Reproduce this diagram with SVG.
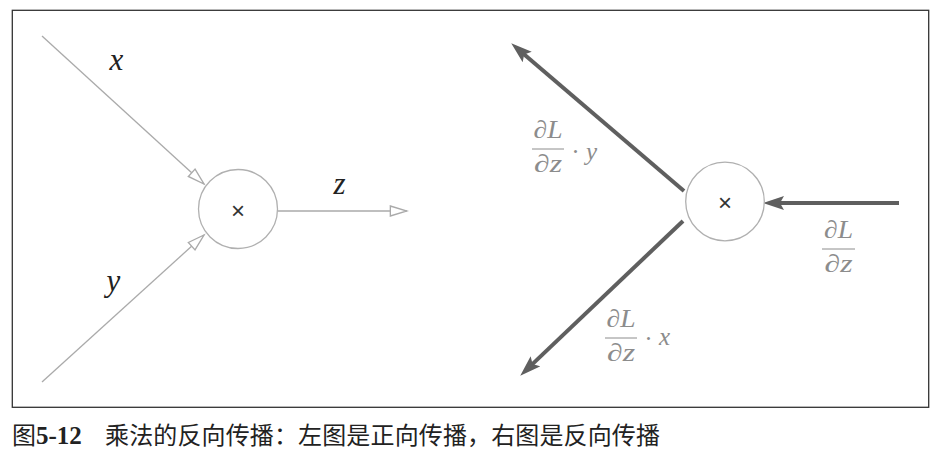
<svg xmlns="http://www.w3.org/2000/svg" width="939" height="459" viewBox="0 0 939 459">
<style>
.frame{fill:none;stroke:#333;stroke-width:1.3}
.node{fill:#fff;stroke:#b0b0b0;stroke-width:1.3}
.times{font-family:"Liberation Sans",sans-serif;font-size:24px;fill:#333;text-anchor:middle}
.fwd{fill:none;stroke:#aaa;stroke-width:1.3}
.bwd{fill:none;stroke:#5f5f5f;stroke-width:4}
.var{font-family:"Liberation Serif",serif;font-style:italic;font-size:31px;fill:#222;text-anchor:middle}
.frac{font-family:"Liberation Serif",serif;font-style:italic;font-size:25px;fill:#8c8c8c;text-anchor:middle}
.bar{stroke:#8c8c8c;stroke-width:1}
.cap{font-family:"Noto Sans CJK SC",sans-serif;font-size:24px;fill:#222}
.capnum{font-family:"Liberation Serif",serif;font-weight:bold;font-size:25px;fill:#222}
</style>
<defs>
<marker id="open" markerUnits="userSpaceOnUse" markerWidth="20" markerHeight="14" viewBox="-1 -1 18 12" refX="15" refY="5" orient="auto">
<path d="M0,0.5 L15,5 L0,9.5 Z" fill="#fff" stroke="#aaa" stroke-width="1.2"/>
</marker>
<marker id="solid" markerUnits="userSpaceOnUse" markerWidth="22" markerHeight="16" viewBox="0 0 22 14" refX="10" refY="7" orient="auto">
<path d="M0,0 L21,7 L0,14 L4,7 Z" fill="#5f5f5f"/>
</marker>
</defs>
<rect class="frame" x="12.3" y="10.3" width="916.4" height="397"/>
<g id="connectors">
<line class="fwd" x1="42" y1="36" x2="204" y2="184" marker-end="url(#open)"/>
<line class="fwd" x1="42" y1="382" x2="204" y2="235" marker-end="url(#open)"/>
<line class="fwd" x1="277.7" y1="211" x2="407" y2="211" marker-end="url(#open)"/>
<line class="bwd" x1="684" y1="191" x2="519.6" y2="50.5" marker-end="url(#solid)"/>
<line class="bwd" x1="683" y1="221" x2="528.2" y2="368.1" marker-end="url(#solid)"/>
<line class="bwd" x1="899" y1="203" x2="774" y2="203" marker-end="url(#solid)"/>
</g>
<g id="node-forward">
<circle class="node" cx="238" cy="209" r="39.5"/>
<text class="times" x="238" y="219">×</text>
</g>
<g id="node-backward">
<circle class="node" cx="725" cy="201.5" r="39.3"/>
<text class="times" x="725" y="211">×</text>
</g>
<g id="labels-forward">
<text class="var" x="116.5" y="70">x</text>
<text class="var" x="113.5" y="291">y</text>
<text class="var" x="339.5" y="194">z</text>
</g>
<g id="label-dy">
<text class="frac" x="548" y="138" textLength="29" lengthAdjust="spacingAndGlyphs">∂L</text>
<line class="bar" x1="532" y1="149" x2="564" y2="149"/>
<text class="frac" x="548" y="172" textLength="28" lengthAdjust="spacingAndGlyphs">∂z</text>
<text class="frac" x="575" y="160">·</text>
<text class="frac" x="591.5" y="160">y</text>
</g>
<g id="label-dx">
<text class="frac" x="621" y="327" textLength="29" lengthAdjust="spacingAndGlyphs">∂L</text>
<line class="bar" x1="605" y1="338" x2="637" y2="338"/>
<text class="frac" x="621" y="361" textLength="28" lengthAdjust="spacingAndGlyphs">∂z</text>
<text class="frac" x="648" y="347">·</text>
<text class="frac" x="664.5" y="345">x</text>
</g>
<g id="label-dz">
<text class="frac" x="838.5" y="238" textLength="29" lengthAdjust="spacingAndGlyphs">∂L</text>
<line class="bar" x1="822" y1="249" x2="855" y2="249"/>
<text class="frac" x="838.5" y="272" textLength="28" lengthAdjust="spacingAndGlyphs">∂z</text>
</g>
<g id="caption">
<text class="cap" x="12" y="444">图</text>
<text class="capnum" x="36" y="444">5-12</text>
<text class="cap" x="105" y="444" textLength="555">乘法的反向传播：左图是正向传播，右图是反向传播</text>
</g>
</svg>
